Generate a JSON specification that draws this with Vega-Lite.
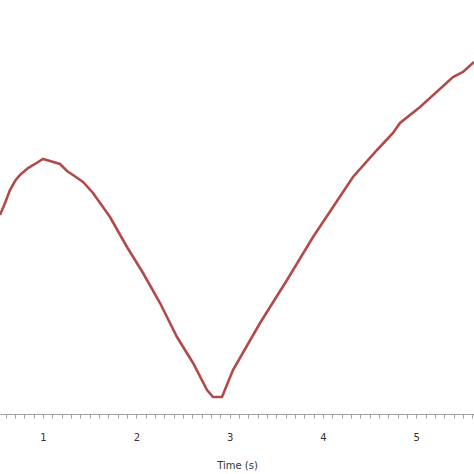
{
  "$schema": "https://vega.github.io/schema/vega-lite/v6.json",
  "width": 474,
  "height": 414,
  "autosize": "none",
  "padding": {"left": 0, "top": 0, "right": 0, "bottom": 60},
  "background": "white",
  "config": {"view": {"stroke": null}},
  "data": {
    "values": [
      {"t": 0.539, "v": 199},
      {"t": 0.593, "v": 211},
      {"t": 0.646, "v": 224},
      {"t": 0.700, "v": 233},
      {"t": 0.753, "v": 239},
      {"t": 0.839, "v": 246},
      {"t": 0.914, "v": 250},
      {"t": 1.000, "v": 255},
      {"t": 1.075, "v": 253},
      {"t": 1.182, "v": 250},
      {"t": 1.257, "v": 243},
      {"t": 1.321, "v": 239},
      {"t": 1.429, "v": 232},
      {"t": 1.536, "v": 221},
      {"t": 1.718, "v": 197},
      {"t": 1.900, "v": 167},
      {"t": 2.072, "v": 141},
      {"t": 2.254, "v": 111},
      {"t": 2.436, "v": 77},
      {"t": 2.608, "v": 51},
      {"t": 2.758, "v": 24},
      {"t": 2.822, "v": 17},
      {"t": 2.918, "v": 17},
      {"t": 3.036, "v": 44},
      {"t": 3.326, "v": 91},
      {"t": 3.615, "v": 134},
      {"t": 3.894, "v": 177},
      {"t": 4.108, "v": 207},
      {"t": 4.322, "v": 237},
      {"t": 4.580, "v": 264},
      {"t": 4.751, "v": 281},
      {"t": 4.826, "v": 291},
      {"t": 5.041, "v": 307},
      {"t": 5.394, "v": 337},
      {"t": 5.501, "v": 342},
      {"t": 5.619, "v": 352}
    ]
  },
  "mark": {"type": "line", "color": "#b34a4a", "strokeWidth": 2.6, "clip": true},
  "encoding": {
    "x": {
      "field": "t",
      "type": "quantitative",
      "title": "Time (s)",
      "scale": {"domain": [0.539, 5.619], "nice": false, "zero": false},
      "axis": {
        "values": [0.6, 0.7, 0.8, 0.9, 1, 1.1, 1.2, 1.3, 1.4, 1.5, 1.6, 1.7, 1.8, 1.9, 2, 2.1, 2.2, 2.3, 2.4, 2.5, 2.6, 2.7, 2.8, 2.9, 3, 3.1, 3.2, 3.3, 3.4, 3.5, 3.6, 3.7, 3.8, 3.9, 4, 4.1, 4.2, 4.3, 4.4, 4.5, 4.6, 4.7, 4.8, 4.9, 5, 5.1, 5.2, 5.3, 5.4, 5.5, 5.6],
        "labelExpr": "datum.value % 1 == 0 ? datum.value : ''",
        "grid": false,
        "domainColor": "#a0a0a0",
        "tickColor": "#a0a0a0",
        "tickSize": 4,
        "labelPadding": 14,
        "labelFont": "DejaVu Sans",
        "labelFontSize": 10,
        "labelColor": "#333333",
        "labelFlush": false,
        "titleFont": "DejaVu Sans",
        "titleFontSize": 10,
        "titleFontWeight": "normal",
        "titleColor": "#333333",
        "titlePadding": 18
      }
    },
    "y": {
      "field": "v",
      "type": "quantitative",
      "scale": {"domain": [0, 414], "nice": false},
      "axis": null
    }
  }
}
